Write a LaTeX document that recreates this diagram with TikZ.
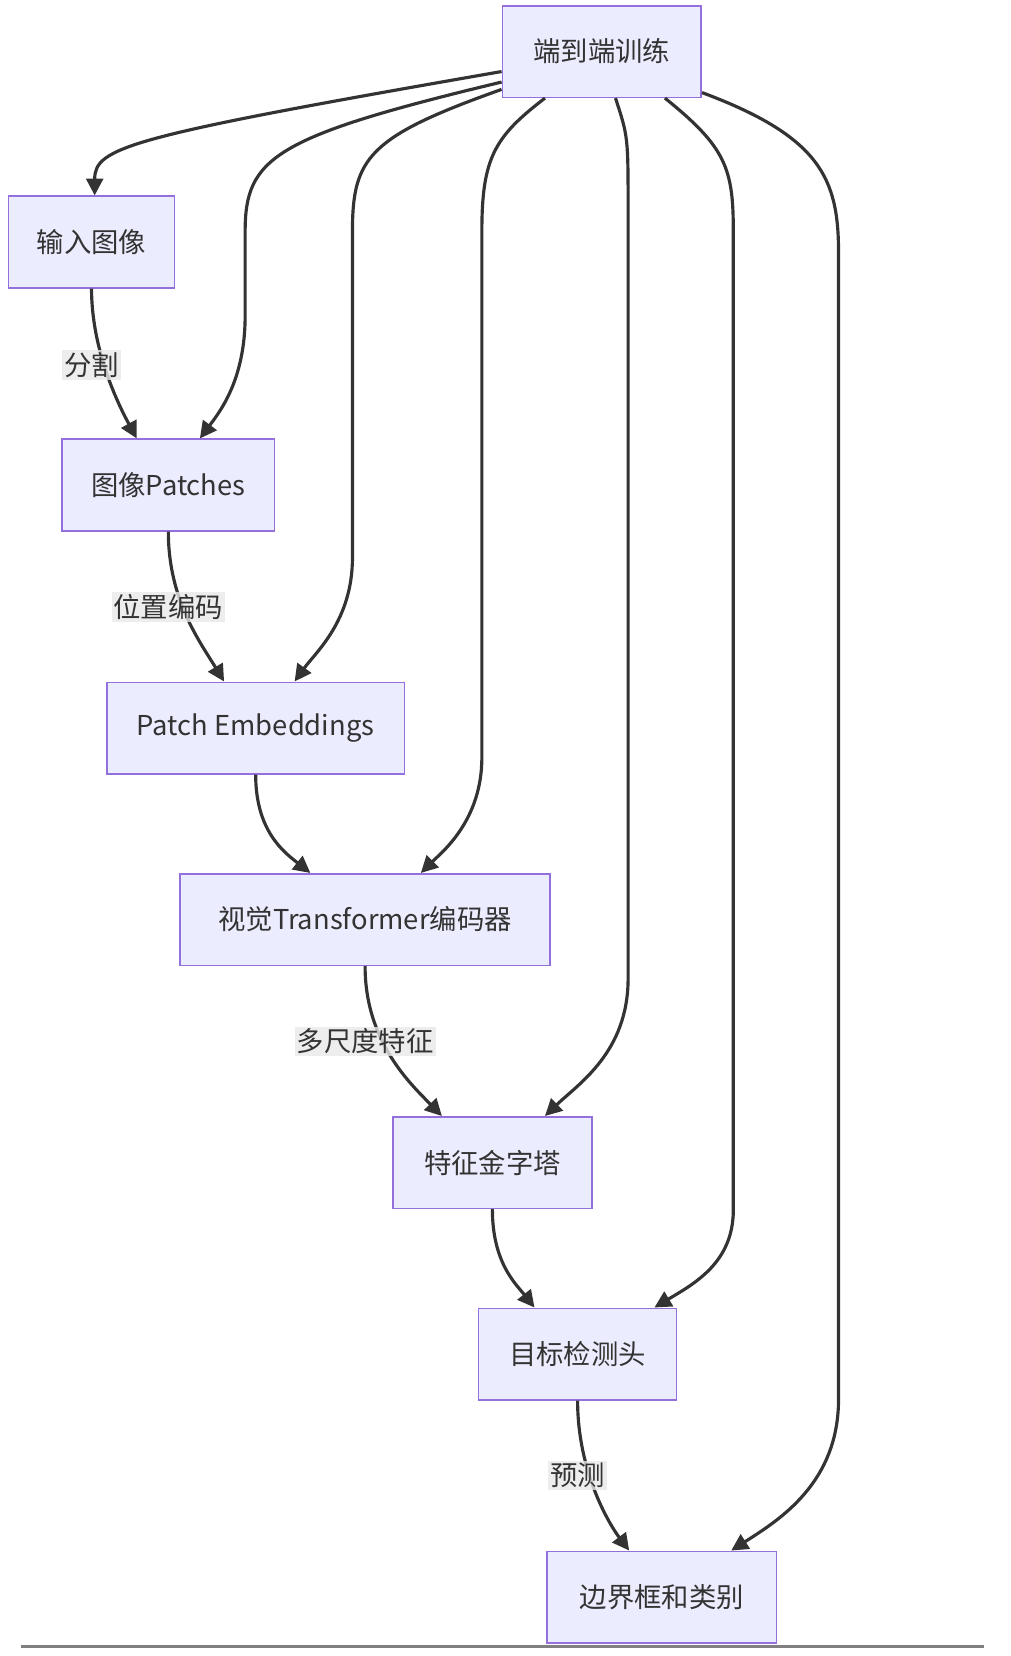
\documentclass[tikz,border=0pt]{standalone}
\usepackage{fontspec}
\setmainfont{Noto Sans CJK SC}
\usetikzlibrary{arrows.meta,calc}
\definecolor{boxfill}{RGB}{236,236,255}
\definecolor{boxline}{RGB}{147,112,219}
\definecolor{edge}{RGB}{51,51,51}
\definecolor{lblbg}{RGB}{232,232,232}
\begin{document}
\begin{tikzpicture}[x=1pt,y=-1pt,
  box/.style={draw=boxline, line width=1.5pt, fill=boxfill, text=edge,
    font=\fontsize{26}{30}\selectfont, minimum height=87pt, inner sep=0pt},
  lbl/.style={fill=lblbg, fill opacity=0.8, text opacity=1, text=edge,
    font=\fontsize{26}{30}\selectfont, inner sep=2pt},
  arr/.style={draw=edge, line width=3pt, -{Triangle[length=16pt,width=16pt]}}]
\useasboundingbox (0,0) rectangle (960,1574);
\draw[gray, line width=2pt] (20,1565) -- (935,1565);

\node[box, minimum width=189pt] (A) at (572,49) {端到端训练};
\node[box, minimum width=158pt] (B) at (87,230) {输入图像};
\node[box, minimum width=202pt] (C) at (160,461) {图像Patches};
\node[box, minimum width=283pt] (D) at (243,692) {Patch Embeddings};
\node[box, minimum width=352pt] (E) at (347,874) {视觉Transformer编码器};
\node[box, minimum width=189pt] (F) at (468,1105) {特征金字塔};
\node[box, minimum width=188pt] (G) at (549,1287) {目标检测头};
\node[box, minimum width=218pt] (H) at (629,1518) {边界框和类别};

% main chain
\draw[arr] (B.south) .. controls (87,330) and (110,380) .. ([xshift=-30pt]C.north);
\draw[arr] (C.south) .. controls (160,570) and (190,610) .. ([xshift=-30pt]D.north);
\draw[arr] (D.south) .. controls (243,790) and (270,810) .. ([xshift=-52pt]E.north);
\draw[arr] (E.south) .. controls (347,990) and (390,1030) .. ([xshift=-48pt]F.north);
\draw[arr] (F.south) .. controls (468,1200) and (490,1220) .. ([xshift=-41pt]G.north);
\draw[arr] (G.south) .. controls (549,1400) and (580,1450) .. ([xshift=-31pt]H.north);

% end-to-end training
\draw[arr] ([yshift=-19pt]A.west) .. controls (120,130) and (90,140) .. ([xshift=3pt]B.north);
\draw[arr] ([yshift=-29pt]A.west) .. controls (260,130) and (233,150) .. (233,220)
  -- (233,300) .. controls (233,360) and (210,390) .. ([xshift=30pt]C.north);
\draw[arr] ([yshift=-36pt]A.west) .. controls (350,130) and (335,150) .. (335,220)
  -- (335,530) .. controls (335,590) and (300,620) .. ([xshift=37pt]D.north);
\draw[arr] ([xshift=-54pt]A.south) .. controls (470,130) and (458,150) .. (458,220)
  -- (458,720) .. controls (458,780) and (420,810) .. ([xshift=53pt]E.north);
\draw[arr] ([xshift=13pt]A.south) .. controls (597,130) .. (597,200)
  -- (597,930) .. controls (597,1000) and (550,1030) .. ([xshift=50pt]F.north);
\draw[arr] ([xshift=60pt]A.south) .. controls (690,140) and (697,160) .. (697,220)
  -- (697,1150) .. controls (697,1200) and (660,1220) .. ([xshift=73pt]G.north);
\draw[arr] ([yshift=-39pt]A.east) .. controls (780,130) and (797,170) .. (797,240)
  -- (797,1330) .. controls (797,1410) and (740,1445) .. ([xshift=66pt]H.north);

% labels
\node[lbl] (l1) at (87,347) {分割};
\node[lbl] (l2) at (160,577) {位置编码};
\node[lbl] (l3) at (347,990) {多尺度特征};
\node[lbl] (l4) at (549,1402) {预测};
\end{tikzpicture}
\end{document}
